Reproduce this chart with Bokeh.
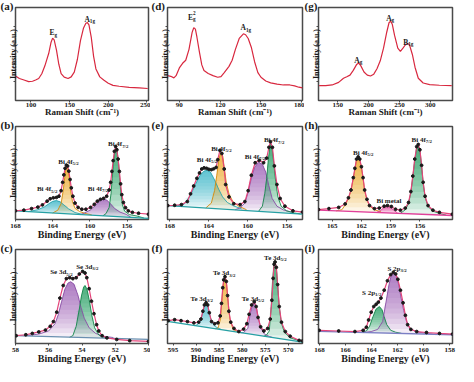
import numpy as np
from bokeh.plotting import figure
from bokeh.layouts import gridplot
from bokeh.models import Range1d, FixedTicker, Label, Title
from bokeh.embed import file_html
from bokeh.resources import INLINE

FONT = "Liberation Serif"

# ---------------- Raman data ----------------
a_shift = [80, 85, 91, 97, 102, 106, 110, 114, 118, 123, 126, 128, 130, 133, 136, 139, 143, 148, 152, 156,
           160, 164, 168, 171, 173, 175, 178, 181, 184, 189, 194, 200, 206, 214, 227, 240, 251]
a_int = [26.4, 23.7, 22.0, 20.3, 20.7, 22.0, 23.7, 28.8, 37.3, 50.8, 62.7, 67.1, 65.1, 54.2, 39.0, 28.8, 25.1, 23.7, 25.4, 30.5,
         44.1, 64.4, 78.0, 83.0, 83.7, 81.4, 67.8, 47.5, 33.9, 25.4, 22.0, 18.6, 16.3, 15.3, 14.2, 13.6, 12.9]

d_shift = [81.3, 83.7, 86.0, 87.6, 90.0, 92.4, 94.7, 97.1, 99.4, 100.6, 101.8, 102.9, 104.8, 106.5, 108.1, 111.2, 114.7, 118.2, 120.6, 123.0,
           126.5, 128.8, 131.2, 134.0, 137.1, 138.7, 140.6, 143.0, 145.3, 147.7, 150.0, 153.5, 157.1, 161.8, 166.5, 171.2, 174.7, 177.8, 180.5]
d_int = [26.7, 26.0, 24.3, 26.7, 35.0, 40.0, 43.3, 55.0, 73.3, 78.3, 76.7, 68.3, 51.7, 38.3, 32.3, 29.0, 26.7, 25.0, 25.7, 30.0,
         36.7, 43.3, 55.0, 66.7, 71.7, 70.7, 66.7, 56.7, 41.7, 30.0, 25.0, 21.0, 19.0, 17.7, 16.7, 16.7, 15.7, 14.3, 13.5]

g_shift = [120, 130.6, 141.1, 151.6, 159.5, 164.8, 170.0, 175.3, 180.6, 184.3, 187.4, 192.7, 198.0, 203.2, 208.5, 213.7, 219.0, 224.3,
           229.5, 233.2, 235.8, 238.5, 242.2, 247.4, 251.6, 255.8, 259.5, 263.2, 266.4, 271.0, 275.3, 280.6, 288.5, 299.0, 314.8, 334.8]
g_int = [16.0, 16.0, 16.7, 19.5, 23.9, 25.6, 27.3, 32.4, 38.6, 40.3, 37.5, 30.7, 27.3, 26.3, 28.3, 34.1, 42.7, 56.3,
         73.4, 83.6, 85.3, 81.9, 70.0, 56.3, 52.9, 56.3, 59.7, 61.4, 59.7, 49.5, 35.8, 23.9, 18.8, 17.1, 16.4, 16.0]

# ---------------- XPS (b) ----------------
b_env_x = [168.0, 167.1, 166.27, 165.6, 165.1, 164.6, 164.27, 163.93, 163.6, 163.33, 163.1, 162.93, 162.8, 162.67, 162.53, 162.4,
           162.27, 162.13, 162.0, 161.83, 161.6, 161.27, 160.87, 160.43, 159.93, 159.53, 159.2, 158.87, 158.53, 158.2, 157.93,
           157.77, 157.63, 157.5, 157.37, 157.23, 157.1, 156.97, 156.83, 156.7, 156.57, 156.4, 156.17, 155.87, 155.43, 154.77, 153.7]
b_env_y = [9.3, 10.0, 11.7, 13.3, 15.7, 19.7, 22.3, 23.3, 23.7, 25.0, 31.0, 40.0, 48.0, 55.0, 58.5, 57.5,
           52.0, 43.0, 34.0, 25.0, 17.7, 13.0, 11.0, 11.0, 13.0, 16.3, 19.7, 21.7, 22.7, 25.0, 31.7,
           40.0, 51.7, 63.3, 73.3, 78.5, 75.0, 65.0, 51.7, 38.3, 26.7, 18.3, 12.7, 9.3, 7.7, 6.7, 5.7]
b_bg_x = [168.0, 153.7]
b_bg_y = [9.3, 1.2]
b_c1_x = [166.6, 165.6, 164.9, 164.4, 164.0, 163.6, 163.2, 162.8, 162.3, 161.6, 160.8]
b_c1_y = [8.5, 10.5, 13.5, 17.0, 19.5, 20.3, 19.0, 15.7, 11.5, 7.5, 5.4]
b_c2_x = [164.0, 163.45, 163.1, 162.87, 162.7, 162.57, 162.47, 162.33, 162.2, 162.07, 161.87, 161.6, 161.1, 160.4, 159.8]
b_c2_y = [7.0, 10.0, 17.0, 31.0, 45.5, 54.5, 57.0, 54.0, 43.5, 30.5, 19.0, 12.0, 8.5, 6.3, 4.9]
b_c3_x = [161.0, 160.6, 159.93, 159.43, 159.0, 158.6, 158.2, 157.77, 157.33, 156.77, 156.1, 155.6]
b_c3_y = [5.3, 7.0, 10.3, 15.0, 19.7, 22.0, 21.0, 16.7, 11.7, 8.0, 5.5, 2.4]
b_c4_x = [158.6, 158.27, 157.93, 157.73, 157.6, 157.47, 157.33, 157.2, 157.07, 156.93, 156.8, 156.67, 156.5, 156.27, 155.77, 154.93, 154.2]
b_c4_y = [4.0, 6.3, 13.0, 27.7, 44.3, 61.0, 73.0, 76.7, 73.3, 61.7, 45.0, 28.3, 15.7, 9.0, 5.3, 3.7, 1.6]

# ---------------- XPS (e) ----------------
e_env_x = [168.2, 167.5, 166.8, 166.2, 165.87, 165.55, 165.22, 164.95, 164.72, 164.48, 164.23, 164.0, 163.74, 163.5, 163.25,
           163.08, 162.86, 162.66, 162.42, 162.27, 161.93, 161.44, 160.79, 160.3, 159.97, 159.64, 159.25, 158.83, 158.39,
           158.07, 157.84, 157.68, 157.48, 157.28, 157.02, 156.69, 156.2, 155.38, 154.4]
e_env_y = [15.0, 15.3, 16.0, 19.3, 27.6, 36.0, 44.3, 50.0, 54.3, 55.5, 55.0, 54.0, 53.6, 54.5, 56.0,
           64.3, 74.3, 71.0, 54.3, 37.6, 24.3, 17.0, 16.0, 19.3, 31.0, 47.6, 61.0, 63.6, 61.0,
           66.0, 77.6, 83.6, 77.6, 57.6, 37.6, 22.6, 14.3, 9.3, 8.0]
e_bg_x = [168.2, 154.4]
e_bg_y = [15.0, 5.8]
e_c1_x = [167.3, 166.53, 165.87, 165.38, 164.88, 164.49, 164.17, 163.84, 163.41, 162.99, 162.59, 162.1, 161.44, 160.63]
e_c1_y = [14.5, 16.5, 26.0, 37.6, 47.6, 52.0, 53.0, 51.0, 42.6, 32.6, 24.3, 18.3, 14.5, 11.5]
e_c2_x = [164.3, 163.74, 163.41, 163.18, 162.99, 162.82, 162.69, 162.56, 162.4, 162.2, 161.93, 161.54, 160.95, 160.13]
e_c2_y = [12.5, 17.6, 31.0, 47.6, 62.6, 71.0, 72.3, 67.6, 54.3, 39.3, 27.6, 19.3, 14.3, 10.5]
e_c3_x = [161.3, 160.79, 160.3, 159.97, 159.64, 159.31, 158.92, 158.51, 158.17, 157.84, 157.51, 157.02, 156.37, 155.38]
e_c3_y = [10.5, 12.6, 17.6, 29.3, 44.3, 56.0, 61.6, 59.3, 51.0, 36.0, 22.6, 14.3, 10.3, 7.5]
e_c4_x = [158.9, 158.51, 158.27, 158.07, 157.9, 157.77, 157.68, 157.51, 157.35, 157.15, 156.92, 156.59, 156.03, 155.22, 154.6]
e_c4_y = [8.8, 14.3, 27.6, 44.3, 64.3, 76.0, 81.0, 76.0, 61.0, 41.0, 24.3, 14.3, 9.3, 7.0, 6.0]

# ---------------- XPS (h) ----------------
h_env_x = [166.4, 165.33, 164.33, 163.67, 163.33, 163.07, 162.83, 162.67, 162.5, 162.33, 162.17, 162.0, 161.83, 161.67,
           161.43, 161.17, 160.67, 160.17, 159.67, 159.33, 158.93, 158.5, 158.0, 157.5, 157.17, 156.93, 156.73, 156.53,
           156.33, 156.17, 156.0, 155.83, 155.67, 155.47, 155.17, 154.67, 154.0, 152.67]
h_env_y = [10.7, 11.7, 13.0, 16.7, 23.3, 31.7, 45.0, 55.0, 65.0, 67.3, 65.0, 56.7, 45.0, 31.7,
           21.7, 15.0, 11.7, 12.3, 14.3, 15.0, 14.0, 11.0, 10.0, 12.3, 18.3, 30.0, 46.7, 65.0,
           78.3, 80.7, 75.0, 58.3, 40.0, 25.0, 15.0, 10.0, 7.7, 5.7]
h_bg_x = [166.4, 152.67]
h_bg_y = [10.0, 4.3]
h_c1_x = [164.6, 164.0, 163.67, 163.33, 163.07, 162.83, 162.67, 162.5, 162.33, 162.17, 162.0, 161.83, 161.67, 161.43, 161.17, 160.67, 160.0]
h_c1_y = [9.3, 10.5, 15.5, 22.5, 31.0, 44.0, 54.0, 64.0, 66.5, 64.0, 56.0, 44.0, 31.0, 21.0, 14.5, 10.5, 8.3]
h_c2_x = [160.4, 160.0, 159.67, 159.33, 159.0, 158.67, 158.3]
h_c2_y = [7.8, 10.0, 13.0, 14.3, 12.8, 9.8, 7.0]
h_c3_x = [158.0, 157.5, 157.17, 156.93, 156.73, 156.53, 156.33, 156.17, 156.0, 155.83, 155.67, 155.47, 155.17, 154.67, 154.0, 153.3]
h_c3_y = [6.6, 10.5, 17.0, 29.0, 45.5, 64.0, 77.0, 79.5, 74.0, 57.5, 39.0, 24.0, 14.0, 9.0, 6.5, 4.7]

# ---------------- XPS (c) ----------------
c_env_x = [57.96, 57.38, 56.99, 56.6, 56.2, 55.91, 55.72, 55.52, 55.33, 55.13, 54.94, 54.74, 54.55, 54.35,
           54.16, 53.96, 53.82, 53.71, 53.57, 53.43, 53.28, 53.12, 52.99, 52.79, 52.5, 51.91, 51.13, 50.0]
c_env_y = [8.3, 9.3, 10.7, 12.3, 14.3, 18.3, 23.3, 33.3, 48.3, 61.7, 69.0, 70.0, 69.0, 70.0,
           73.9, 76.7, 75.0, 70.0, 58.3, 45.0, 31.7, 20.0, 13.3, 8.3, 6.0, 4.3, 3.0, 2.3]
c_bg_x = [58.0, 50.0]
c_bg_y = [8.3, 4.3]
c_c1_x = [57.5, 56.6, 56.01, 55.62, 55.42, 55.23, 55.03, 54.84, 54.68, 54.49, 54.25, 54.06, 53.86, 53.57, 53.18, 52.69, 52.11]
c_c1_y = [8.1, 10.0, 13.3, 21.0, 31.0, 44.3, 57.7, 64.3, 65.7, 63.3, 51.7, 38.3, 26.7, 16.7, 10.7, 7.7, 6.3]
c_c2_x = [54.75, 54.55, 54.35, 54.16, 54.02, 53.9, 53.82, 53.71, 53.57, 53.41, 53.24, 52.99, 52.69, 52.3]
c_c2_y = [6.6, 8.3, 18.3, 36.7, 51.7, 60.0, 61.7, 58.3, 46.7, 30.0, 16.7, 9.0, 6.3, 5.4]

# ---------------- XPS (f) ----------------
f_env_x = [596.04, 594.65, 593.26, 591.87, 590.47, 589.43, 588.94, 588.52, 588.18, 587.83, 587.48, 587.13, 586.64, 585.95,
           585.25, 584.76, 584.48, 584.21, 584.0, 583.72, 583.44, 583.16, 582.88, 582.47, 581.77, 580.72, 579.68, 578.98,
           578.5, 577.94, 577.38, 576.96, 576.55, 575.99, 575.29, 574.46, 573.9, 573.55, 573.27, 573.06, 572.86, 572.58,
           572.3, 571.95, 571.46, 570.63, 569.58, 567.63, 566.9]
f_env_y = [24.3, 25.3, 24.3, 23.3, 22.0, 22.7, 26.0, 34.3, 41.0, 43.3, 41.0, 32.7, 23.3, 21.0,
           22.0, 29.3, 42.7, 59.3, 67.7, 71.0, 66.0, 51.0, 34.3, 22.7, 16.0, 12.7, 15.3, 21.0,
           31.0, 41.0, 44.3, 39.3, 27.7, 17.7, 13.3, 16.0, 26.0, 46.0, 69.3, 84.3, 86.7, 81.0,
           62.7, 39.3, 22.7, 12.7, 7.7, 3.3, 2.7]
f_bg_x = [596.2, 566.9]
f_bg_y = [23.5, 1.4]
f_c1_x = [590.3, 589.78, 589.08, 588.52, 588.18, 587.83, 587.48, 587.13, 586.64, 585.95, 585.04, 584.6]
f_c1_y = [19.0, 19.8, 23.3, 33.3, 40.3, 43.0, 40.7, 32.7, 23.3, 18.3, 16.0, 15.0]
f_c2_x = [585.8, 585.25, 584.69, 584.34, 584.0, 583.72, 583.44, 583.09, 582.67, 581.98, 581.07, 580.4]
f_c2_y = [15.7, 16.3, 26.0, 49.3, 67.7, 70.7, 66.7, 47.7, 26.0, 15.3, 12.7, 11.6]
f_c3_x = [580.2, 579.68, 578.77, 578.22, 577.8, 577.38, 576.96, 576.55, 575.99, 575.15, 574.11, 573.5]
f_c3_y = [11.4, 11.8, 16.0, 32.0, 41.0, 44.0, 40.0, 29.3, 16.7, 10.0, 7.5, 6.5]
f_c4_x = [575.3, 574.8, 574.11, 573.69, 573.41, 573.13, 572.86, 572.58, 572.3, 571.95, 571.53, 570.84, 569.58, 567.84, 567.0]
f_c4_y = [7.8, 8.5, 13.3, 39.3, 66.0, 82.7, 86.7, 81.0, 62.7, 39.3, 22.7, 12.0, 6.0, 3.3, 1.6]

# ---------------- XPS (i) ----------------
i_env_x = [168.03, 166.53, 165.28, 164.65, 164.4, 164.23, 164.03, 163.83, 163.65, 163.48, 163.28, 163.03, 162.78,
           162.53, 162.33, 162.15, 161.98, 161.78, 161.58, 161.4, 161.23, 160.98, 160.53, 159.78, 158.78, 157.78]
i_env_y = [14.0, 13.3, 12.7, 14.0, 17.3, 25.0, 33.3, 39.3, 41.7, 44.0, 48.3, 56.7, 66.7,
           73.3, 75.7, 74.0, 68.3, 56.7, 43.3, 30.0, 20.0, 15.0, 12.7, 11.7, 10.7, 10.0]
i_bg_x = [168.1, 157.75]
i_bg_y = [13.0, 9.3]
i_c1_x = [164.8, 164.4, 164.15, 163.9, 163.65, 163.4, 163.2, 163.03, 162.83, 162.53, 162.15, 161.7]
i_c1_y = [11.9, 13.3, 18.3, 28.3, 36.7, 39.3, 36.0, 28.3, 20.0, 14.0, 12.0, 10.8]
i_c2_x = [164.6, 164.03, 163.53, 163.15, 162.9, 162.65, 162.48, 162.28, 162.08, 161.9, 161.73, 161.53, 161.33, 161.08, 160.65, 160.03, 159.3]
i_c2_y = [11.8, 12.7, 15.0, 23.3, 43.3, 63.3, 72.7, 75.7, 71.7, 61.7, 48.3, 35.0, 24.0, 16.7, 12.7, 11.3, 9.9]

# ---------------- tick values ----------------
a_ticks = [100, 150, 200, 250]
d_ticks = [90, 120, 150, 180]
g_ticks = [150, 200, 250, 300]
b_ticks = [168, 164, 160, 156]
e_ticks = [168, 164, 160, 156]
h_ticks = [165, 162, 159, 156]
c_ticks = [58, 56, 54, 52, 50]
f_ticks = [595, 590, 585, 580, 575, 570]
i_ticks = [168, 166, 164, 162, 160, 158]

# ---------------- styling ----------------
RAMAN = "#d8283f"
CYAN, CYAN_L = "#3bb9c4", "#28a3ae"
ORANGE, ORANGE_L = "#eaa21c", "#d58a0c"
PURPLE, PURPLE_L = "#9d5fb8", "#8a4ea6"
GREEN, GREEN_L = "#1f9f5f", "#16864c"
MAGENTA = "#e0409a"
ENV = "#e4457a"
BGTEAL = "#26a0a4"
FRAME = "#4a4a4a"
TXT = "#1a1a1a"

COLW = [150, 154, 154]
LEFTB = [15, 17, 14]
RIGHTB = [2, 2, 6]
TAGOFF = [-15, -16, -14]
ROWH = [119, 123, 124]
TOPB = [7, 7, 7]
BOTB = [18, 20, 20]
TICK_STANDOFF = [0, 2, 2]
XLAB_STANDOFF = [-3, -2, -2]
TAG_STANDOFF = -16
HAS_STANDOFF = "standoff" in Title.properties()


def make_fig(col, row, xr, ticks, xlabel, xlabel_size, tag):
    p = figure(width=COLW[col], height=ROWH[row], x_range=Range1d(*xr), y_range=Range1d(0, 100),
               output_backend="svg", toolbar_location=None,
               min_border_left=LEFTB[col], min_border_right=RIGHTB[col],
               min_border_top=TOPB[row], min_border_bottom=BOTB[row])
    p.xgrid.visible = False
    p.ygrid.visible = False
    p.outline_line_color = FRAME
    p.outline_line_width = 1.5
    p.background_fill_color = "white"
    p.border_fill_color = "white"
    for ax in (p.xaxis[0], p.yaxis[0]):
        ax.axis_line_color = None
        ax.major_tick_line_color = FRAME
        ax.major_tick_out = 2
        ax.major_tick_in = 0
        ax.minor_tick_out = 0
        ax.minor_tick_in = 0
        ax.major_label_text_font = FONT
        ax.major_label_text_font_style = "bold"
        ax.major_label_text_color = TXT
        ax.axis_label_text_font = FONT
        ax.axis_label_text_font_style = "bold"
        ax.axis_label_text_color = TXT
    xa = p.xaxis[0]
    xa.ticker = FixedTicker(ticks=ticks)
    xa.major_label_text_font_size = "7px"
    xa.major_label_standoff = TICK_STANDOFF[row]
    xa.axis_label = xlabel
    xa.axis_label_text_font_size = xlabel_size
    xa.axis_label_standoff = XLAB_STANDOFF[row]
    ya = p.yaxis[0]
    yt = [20, 40, 60, 80]
    ya.ticker = FixedTicker(ticks=yt)
    ya.major_label_overrides = {t: "" for t in yt}
    ya.major_label_text_font_size = "1px"
    ya.major_label_standoff = 0
    ya.axis_label = "Intensity (a.u.)"
    ya.axis_label_text_font_size = "8px"
    ya.axis_label_standoff = -4
    # panel tag, top-left beside the frame
    kw = dict(text=tag, align="left", offset=TAGOFF[col], vertical_align="top",
              text_font=FONT, text_font_style="bold", text_font_size="11px", text_color=TXT)
    if HAS_STANDOFF:
        kw["standoff"] = TAG_STANDOFF
    p.add_layout(Title(**kw), "above")
    return p


def sub_label(p, x, y, main, sub, sup=None, size=7.0):
    p.add_layout(Label(x=x, y=y, text=main, text_align="right", text_baseline="alphabetic",
                       text_font=FONT, text_font_style="bold", text_font_size=f"{size}px", text_color=TXT))
    p.add_layout(Label(x=x, y=y, y_offset=-2, text=sub, text_align="left", text_baseline="alphabetic",
                       text_font=FONT, text_font_style="bold", text_font_size=f"{size * 0.7:.1f}px", text_color=TXT))
    if sup:
        p.add_layout(Label(x=x, y=y, y_offset=4, text=sup, text_align="left", text_baseline="alphabetic",
                           text_font=FONT, text_font_style="bold", text_font_size=f"{size * 0.7:.1f}px", text_color=TXT))


def grad_fill(p, cx, cy, color, n=12, alpha=0.11):
    cx = np.asarray(cx, float)
    cy = np.asarray(cy, float)
    base = cy[0] + (cy[-1] - cy[0]) * (cx - cx[0]) / (cx[-1] - cx[0])
    lo, hi = base.min(), cy.max()
    for k in range(n):
        h = lo + (hi - lo) * k / n
        y1 = np.maximum(base, h)
        y2 = np.maximum(cy, y1)
        p.varea(x=cx, y1=y1, y2=y2, fill_color=color, fill_alpha=alpha)


def raman(col, row, xr, xs, ys, ticks, tag, labels):
    p = make_fig(col, row, xr, ticks, "Raman Shift (cm\u207b\u00b9)", "9px", tag)
    p.line(xs, ys, line_color=RAMAN, line_width=1.2)
    for lab in labels:
        sub_label(p, *lab, size=7.5)
    return p


def xps(col, row, xr, ticks, tag, env, bg, comps, labels, bg_color=BGTEAL):
    p = make_fig(col, row, xr, ticks, "Binding Energy (eV)", "10px", tag)
    for (cx, cy, fc, lc) in comps:
        grad_fill(p, cx, cy, fc)
    for (cx, cy, fc, lc) in comps:
        p.line(cx, cy, line_color=lc, line_width=0.9)
    p.line(bg[0], bg[1], line_color=bg_color, line_width=1.3)
    p.line(env[0], env[1], line_color=ENV, line_width=1.2)
    p.scatter(env[0], env[1], size=2.8, color="#1a1a1a")
    for lab in labels:
        if len(lab) == 4 and lab[3] == "plain":
            p.add_layout(Label(x=lab[0], y=lab[1], text=lab[2], text_align="center", text_baseline="alphabetic",
                               text_font=FONT, text_font_style="bold", text_font_size="7px", text_color=TXT))
        else:
            sub_label(p, *lab, size=7.0)
    return p


pa = raman(0, 0, (80, 252), a_shift, a_int, a_ticks, "(a)",
           [(130.5, 72.9, "E", "g"), (176.1, 87.5, "A", "1g")])
pd = raman(1, 0, (81.3, 180.5), d_shift, d_int, d_ticks, "(d)",
           [(100.1, 89.3, "E", "g", "2"), (139.0, 78.3, "A", "1g")])
pg = raman(2, 0, (119, 336), g_shift, g_int, g_ticks, "(g)",
           [(185.8, 43.3, "A", "g"), (237.4, 88.4, "A", "g"), (264.3, 62.5, "B", "1g")])

pb = xps(0, 1, (168.0, 153.7), b_ticks, "(b)", (b_env_x, b_env_y), (b_bg_x, b_bg_y),
         [(b_c1_x, b_c1_y, CYAN, CYAN_L), (b_c2_x, b_c2_y, ORANGE, ORANGE_L),
          (b_c3_x, b_c3_y, PURPLE, PURPLE_L), (b_c4_x, b_c4_y, GREEN, GREEN_L)],
         [(164.17, 32.3, "Bi 4f", "5/2"), (161.87, 62.0, "Bi 4f", "5/2"),
          (158.7, 33.3, "Bi 4f", "7/2"), (156.53, 81.0, "Bi 4f", "7/2")])
pe = xps(1, 1, (168.23, 154.4), e_ticks, "(e)", (e_env_x, e_env_y), (e_bg_x, e_bg_y),
         [(e_c1_x, e_c1_y, CYAN, CYAN_L), (e_c2_x, e_c2_y, ORANGE, ORANGE_L),
          (e_c3_x, e_c3_y, PURPLE, PURPLE_L), (e_c4_x, e_c4_y, GREEN, GREEN_L)],
         [(163.77, 64.3, "Bi 4f", "5/2"), (162.3, 76.3, "Bi 4f", "5/2"),
          (158.86, 67.3, "Bi 4f", "7/2"), (156.9, 85.3, "Bi 4f", "7/2")])
ph = xps(2, 1, (166.4, 152.66), h_ticks, "(h)", (h_env_x, h_env_y), (h_bg_x, h_bg_y),
         [(h_c1_x, h_c1_y, ORANGE, ORANGE_L), (h_c2_x, h_c2_y, MAGENTA, MAGENTA),
          (h_c3_x, h_c3_y, GREEN, GREEN_L)],
         [(161.4, 71.7, "Bi 4f", "5/2"), (159.17, 20.0, "Bi metal", "plain"), (155.4, 86.0, "Bi 4f", "7/2")],
         bg_color=MAGENTA)
pc = xps(0, 2, (58.0, 50.0), c_ticks, "(c)", (c_env_x, c_env_y), (c_bg_x, c_bg_y),
         [(c_c1_x, c_c1_y, PURPLE, PURPLE_L), (c_c2_x, c_c2_y, GREEN, GREEN_L)],
         [(54.94, 75.7, "Se 3d", "5/2"), (53.38, 81.7, "Se 3d", "3/2")], bg_color="#6a8fb0")
pf = xps(1, 2, (596.2, 566.9), f_ticks, "(f)", (f_env_x, f_env_y), (f_bg_x, f_bg_y),
         [(f_c1_x, f_c1_y, CYAN, CYAN_L), (f_c2_x, f_c2_y, ORANGE, ORANGE_L),
          (f_c3_x, f_c3_y, PURPLE, PURPLE_L), (f_c4_x, f_c4_y, GREEN, GREEN_L)],
         [(587.7, 47.7, "Te 3d", "3/2"), (582.8, 74.7, "Te 3d", "3/2"),
          (576.55, 47.7, "Te 3d", "5/2"), (571.7, 91.0, "Te 3d", "5/2")])
pi = xps(2, 2, (168.08, 157.78), i_ticks, "(i)", (i_env_x, i_env_y), (i_bg_x, i_bg_y),
         [(i_c1_x, i_c1_y, GREEN, GREEN_L), (i_c2_x, i_c2_y, PURPLE, PURPLE_L)],
         [(163.73, 54.0, "S 2p", "1/2"), (161.78, 79.3, "S 2p", "3/2")], bg_color="#7b7fc4")

grid = gridplot([[pa, pd, pg], [pb, pe, ph], [pc, pf, pi]], toolbar_location=None)

open("out.html", "w").write(file_html(grid, INLINE))
